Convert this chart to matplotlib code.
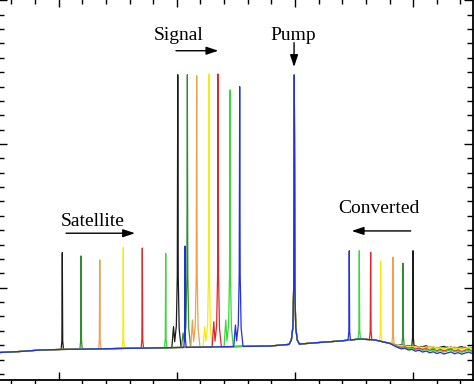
import numpy as np
import matplotlib.pyplot as plt
from matplotlib.ticker import MultipleLocator

plt.rcParams['font.family'] = ['Liberation Serif', 'DejaVu Serif']

# one spectrum per signal setting: black, dark green, orange, yellow, red, light green, blue
colors = ['#1a1a1a', '#2f8f2f', '#f0a04a', '#f0ee10', '#e3262b', '#38d838', '#2430e0']

# wavelength (nm) / power (dB)
sat_nm = [1530.31, 1531.90, 1533.48, 1535.47, 1537.08, 1539.06, 1540.69]
sat_db = [-27.56, -27.79, -28.07, -27.22, -27.24, -27.62, -27.10]
sig_nm = [1540.08, 1540.89, 1541.68, 1542.72, 1543.49, 1544.50, 1545.32]
sig_db = [-15.18, -15.18, -15.25, -15.13, -15.13, -16.24, -16.01]
sig_shoulder_db = [-32.71, -33.15, -32.25, -32.73, -32.37, -32.25, -32.60]
pump_nm = 1549.94
pump_db = -15.20
conv_nm = [1559.98, 1559.14, 1558.29, 1557.25, 1556.40, 1555.44, 1554.59]
conv_db = [-27.43, -28.30, -27.88, -28.14, -27.54, -27.43, -27.43]

# common noise floor
base_nm = [1525.04, 1526.73, 1528.43, 1530.12, 1532.66, 1535.19, 1537.73, 1540.27,
           1542.81, 1545.35, 1547.88, 1550.42, 1552.12, 1553.81, 1555.50, 1556.77, 1558.04]
base_db = [-34.51, -34.44, -34.34, -34.30, -34.27, -34.23, -34.20, -34.16,
           -34.13, -34.09, -34.06, -33.92, -33.81, -33.71, -33.57, -33.64, -33.88]

# noisy tail on the long-wavelength side, different for each trace
tail_nm = [1558.4, 1558.7, 1559.0, 1559.3, 1559.6, 1559.9, 1560.2, 1560.5, 1560.8, 1561.1,
           1561.4, 1561.7, 1562.0, 1562.3, 1562.6, 1562.9, 1563.2, 1563.5, 1563.8, 1564.1,
           1564.4, 1564.7, 1565.0, 1565.3]
tail_db = [
    [-33.95, -34.02, -33.97, -34.08, -34.03, -34.12, -34.05, -34.15, -34.10, -34.04, -34.18, -34.12,
     -34.22, -34.14, -34.08, -34.20, -34.13, -34.25, -34.16, -34.10, -34.22, -34.15, -34.26, -34.18],
    [-33.97, -34.05, -34.00, -34.10, -34.06, -34.15, -34.09, -34.18, -34.12, -34.20, -34.14, -34.24,
     -34.16, -34.26, -34.18, -34.12, -34.25, -34.18, -34.28, -34.20, -34.14, -34.26, -34.19, -34.27],
    [-33.96, -34.03, -34.09, -34.04, -34.13, -34.08, -34.17, -34.11, -34.20, -34.13, -34.08, -34.22,
     -34.15, -34.24, -34.17, -34.27, -34.19, -34.12, -34.26, -34.18, -34.29, -34.21, -34.15, -34.28],
    [-33.98, -34.06, -34.02, -34.12, -34.07, -34.16, -34.10, -34.20, -34.14, -34.23, -34.16, -34.10,
     -34.24, -34.18, -34.28, -34.20, -34.14, -34.27, -34.20, -34.30, -34.22, -34.16, -34.28, -34.22],
    [-34.00, -34.10, -34.16, -34.12, -34.22, -34.17, -34.27, -34.21, -34.30, -34.24, -34.35, -34.28,
     -34.38, -34.30, -34.40, -34.33, -34.27, -34.41, -34.34, -34.44, -34.36, -34.30, -34.42, -34.36],
    [-34.02, -34.13, -34.20, -34.16, -34.27, -34.22, -34.33, -34.27, -34.37, -34.30, -34.41, -34.34,
     -34.45, -34.38, -34.48, -34.40, -34.34, -34.47, -34.40, -34.50, -34.42, -34.36, -34.46, -34.40],
    [-34.05, -34.17, -34.26, -34.22, -34.34, -34.30, -34.42, -34.36, -34.48, -34.41, -34.53, -34.46,
     -34.58, -34.50, -34.62, -34.54, -34.47, -34.60, -34.52, -34.63, -34.55, -34.48, -34.58, -34.50],
]


def build_trace(i):
    bx = np.array(base_nm + tail_nm)
    by = np.array(base_db + tail_db[i])
    peaks = []
    # narrow satellite / converted lines
    for c, top in [(sat_nm[i], sat_db[i]), (conv_nm[i], conv_db[i])]:
        f = np.interp(c, bx, by)
        peaks.append(([c - 0.1, c - 0.035, c, c + 0.035, c + 0.1],
                      [f, f + 0.6, top, f + 0.6, f]))
    # signal with a small shoulder on the short side
    c, top = sig_nm[i], sig_db[i]
    f = np.interp(c, bx, by)
    peaks.append(([c - 0.5, c - 0.36, c - 0.26, c - 0.12, c - 0.04, c, c + 0.04, c + 0.12, c + 0.28],
                  [f, sig_shoulder_db[i], f + 0.4, f + 1.5, f + 5, top, f + 5, f + 1.3, f]))
    # pump
    c = pump_nm
    f = np.interp(c, bx, by)
    peaks.append(([c - 0.45, c - 0.25, c - 0.12, c - 0.05, c, c + 0.05, c + 0.12, c + 0.25, c + 0.45],
                   [f, f + 0.3, f + 1.2, f + 4, pump_db, f + 4, f + 1.2, f + 0.3, f]))
    xs, ys = [], []
    for x, y in zip(bx, by):
        if all(not (px[0] <= x <= px[-1]) for px, _ in peaks):
            xs.append(x)
            ys.append(y)
    for px, py in peaks:
        xs += px
        ys += py
    order = np.argsort(xs)
    return np.array(xs)[order], np.array(ys)[order]


fig = plt.figure(figsize=(4.74, 3.84), dpi=100)
ax = fig.add_axes([-2 / 474, 4.5 / 384, 475 / 474, 381.5 / 384])

for i, col in enumerate(colors):
    x, y = build_trace(i)
    ax.plot(x, y, color=col, lw=0.9)

ax.set_xlim(1524.87, 1565.06)
ax.set_ylim(-36.39, -9.84)

ax.xaxis.set_major_locator(MultipleLocator(10))
ax.xaxis.set_minor_locator(MultipleLocator(2))
ax.yaxis.set_major_locator(MultipleLocator(10))
ax.yaxis.set_minor_locator(MultipleLocator(1))
ax.tick_params(axis='x', which='both', top=False, bottom=True, labelbottom=False, width=1)
ax.tick_params(axis='x', which='major', direction='in', length=6)
ax.tick_params(axis='x', which='minor', direction='out', length=4)
ax.tick_params(axis='y', which='both', left=True, right=True, labelleft=False,
               direction='in', width=1)
ax.tick_params(axis='y', which='major', length=6.5)
ax.tick_params(axis='y', which='minor', length=4.3)
for s in ax.spines.values():
    s.set_linewidth(1.3)

top = ax.secondary_xaxis('top')
top.xaxis.set_major_locator(MultipleLocator(10))
top.xaxis.set_minor_locator(MultipleLocator(2))
top.tick_params(which='both', direction='in', labeltop=False, width=1)
top.tick_params(which='major', length=6.5)
top.tick_params(which='minor', length=4.3)

arrow = dict(arrowstyle='-|>,head_length=0.6,head_width=0.2', color='black', lw=1,
             mutation_scale=12, shrinkA=0, shrinkB=0)
ax.text(1540.19, -12.76, 'Signal', ha='center', va='baseline', fontsize=14)
ax.annotate('', xy=(1543.51, -13.51), xytext=(1539.93, -13.51), arrowprops=arrow)
ax.text(1549.83, -12.76, 'Pump', ha='center', va='baseline', fontsize=14)
ax.annotate('', xy=(1549.92, -14.64), xytext=(1549.92, -12.95), arrowprops=arrow)
ax.text(1532.87, -25.71, 'Satellite', ha='center', va='baseline', fontsize=14)
ax.annotate('', xy=(1536.46, -26.21), xytext=(1530.63, -26.21), arrowprops=arrow)
ax.text(1557.11, -24.80, 'Converted', ha='center', va='baseline', fontsize=14)
ax.annotate('', xy=(1554.80, -26.05), xytext=(1559.79, -26.05), arrowprops=arrow)

fig.savefig('out.png', dpi=100)
